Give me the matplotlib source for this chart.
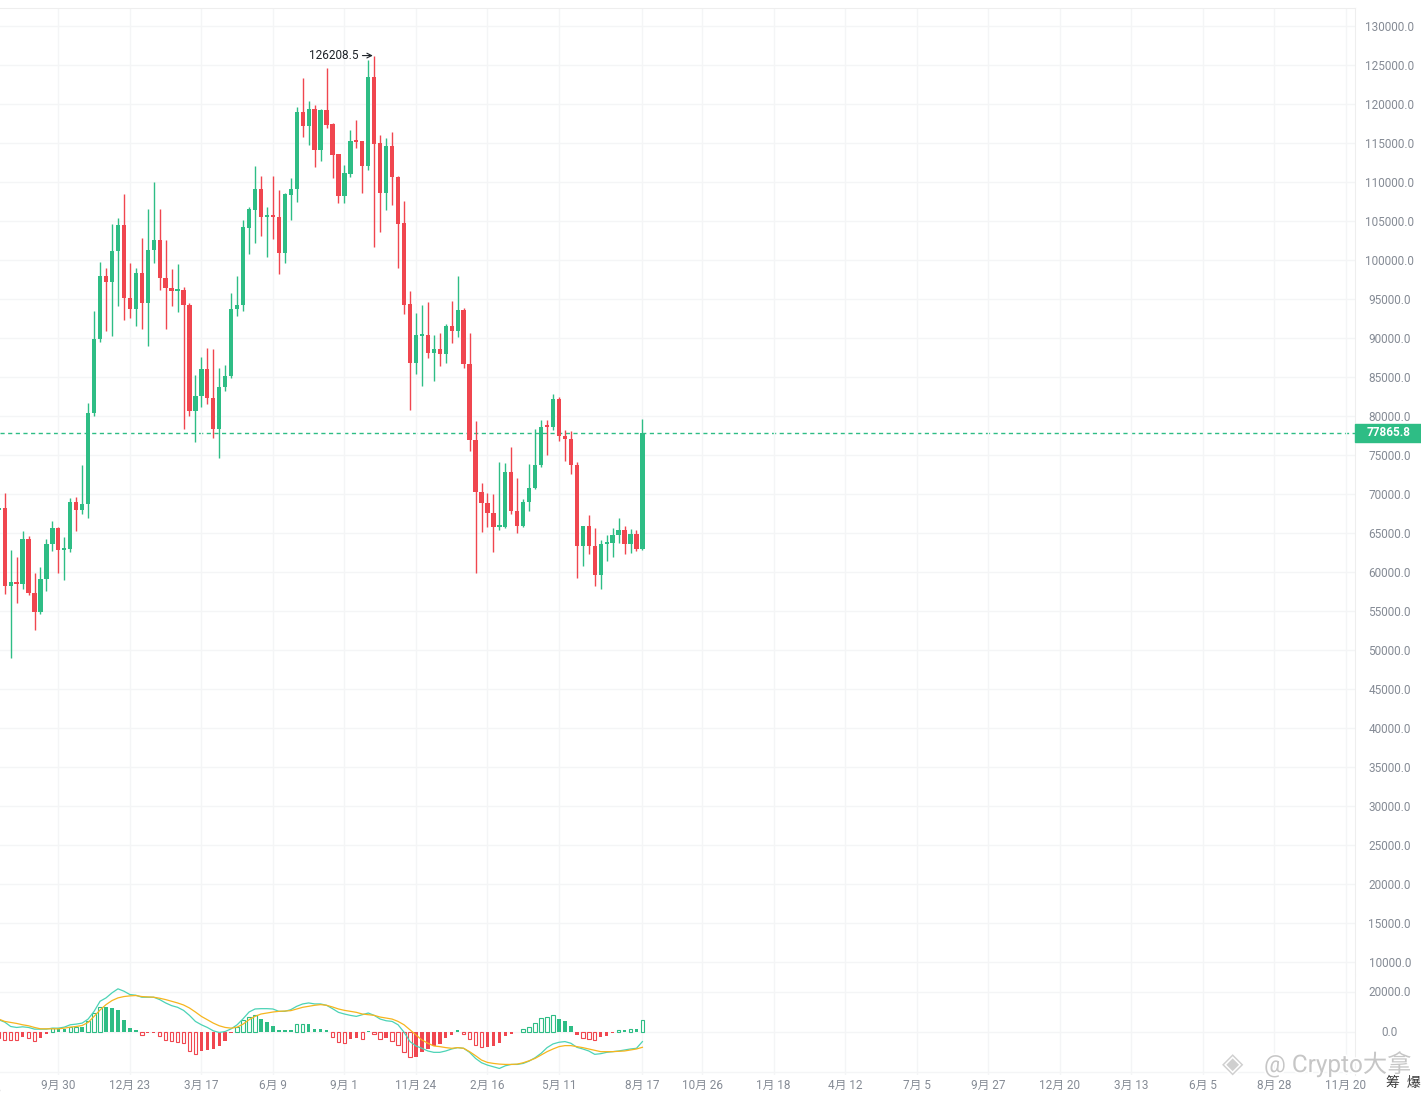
import numpy as np
import matplotlib.pyplot as plt
import matplotlib.transforms as mtransforms
import matplotlib.patheffects as pe
from matplotlib.patches import Rectangle

plt.rcParams['font.family'] = ['Roboto', 'Noto Sans CJK SC', 'DejaVu Sans']

# weekly candles, week 0 = 2024-07-22
opens = [68000, 68248, 58162, 58761, 58419, 64274, 57350, 54829, 59060, 63547,
         65684, 62778, 62991, 69017, 67906, 68675, 80342, 89829, 97991, 97137,
         101111, 104530, 95171, 93675, 98376, 94444, 101239, 102607, 97735, 96453,
         95983, 96197, 94274, 80598, 82521, 86068, 82350, 78291, 83675, 85085,
         93675, 94231, 104103, 106410, 109060, 105513, 105684, 105556, 100897, 108333,
         109060, 119017, 117179, 119402, 114103, 119274, 117393, 113547, 108205, 111026,
         115299, 115214, 112051, 123419, 114957, 108590, 114573, 110598, 104701, 94316,
         86838, 90214, 90385, 88034, 88632, 87906, 91581, 90855, 93632, 86709,
         76966, 70299, 68889, 67607, 65726, 65812, 72863, 67863, 65940, 68932,
         70726, 73675, 78761, 78547, 82222, 77479, 77094, 73761, 63333, 65855,
         63333, 59573, 63547, 63718, 64701, 65427, 63547, 64915, 62906]
highs = [69000, 70171, 62778, 61923, 65256, 64573, 59872, 60684, 64188, 66538,
         65800, 64487, 69530, 69615, 73761, 81709, 93462, 99701, 99017, 104658,
         105427, 108419, 99573, 99017, 102821, 106496, 110043, 106496, 102521, 98846,
         99487, 96538, 94444, 85299, 87564, 88761, 88590, 86197, 86496, 95812,
         97949, 105085, 106752, 112051, 110769, 106838, 110727, 108932, 108632, 110513,
         119658, 123376, 120385, 119829, 119400, 124573, 117521, 113633, 112179, 116667,
         117949, 115299, 125700, 126208.5, 115983, 115598, 116453, 110769, 107521, 96068,
         93162, 94231, 94615, 90385, 90641, 91838, 94786, 97991, 93800, 90641,
         79359, 71453, 70171, 70043, 74145, 73932, 76068, 72051, 69402, 73846,
         78376, 79487, 79530, 82863, 82436, 78162, 78120, 74145, 65900, 67350,
         65684, 64060, 64744, 65684, 66966, 65855, 65556, 65427, 79615]
lows = [66500, 57137, 49017, 56068, 57863, 57100, 52607, 54658, 57521, 62650,
        59915, 58974, 62521, 65299, 67479, 66923, 80000, 89487, 90897, 90214,
        94060, 92265, 92521, 91538, 91111, 88932, 99573, 96111, 91154, 94060,
        93376, 78291, 80000, 76667, 81154, 81538, 77180, 74573, 83205, 84900,
        92778, 93462, 100726, 102137, 103077, 100385, 102650, 98205, 99615, 105085,
        107436, 115726, 114744, 111923, 112650, 116880, 110556, 107308, 107308, 110684,
        114402, 108632, 111538, 101624, 103590, 106410, 107051, 99017, 93077, 80726,
        85342, 83889, 87479, 84487, 86410, 86795, 89316, 90085, 86154, 75556,
        59872, 65171, 65726, 62521, 65342, 65600, 67393, 65000, 65726, 67778,
        70641, 73500, 74957, 78162, 76752, 74274, 72521, 59188, 60769, 62308,
        58162, 57863, 61410, 61923, 63761, 62308, 62393, 62650, 62778]
closes = [68250, 58162, 58761, 58419, 64274, 57265, 54829, 59145, 63632, 65684,
          62778, 62991, 69017, 67906, 68761, 80427, 89915, 97991, 97137, 101197,
          104530, 95085, 93675, 98376, 94444, 101325, 102607, 97650, 96368, 95983,
          96197, 94188, 80598, 82607, 86068, 82308, 78291, 83761, 85171, 93761,
          94274, 104188, 106496, 109060, 105513, 105684, 105470, 100897, 108462, 109103,
          119017, 117179, 119402, 114103, 119274, 117308, 113462, 108205, 111111, 115214,
          115128, 112051, 123419, 114872, 108590, 114573, 110598, 104615, 94231, 86838,
          90342, 90385, 88034, 88632, 87906, 91581, 90855, 93632, 86624, 76880,
          70214, 68803, 67521, 65726, 65940, 72863, 67778, 65940, 69017, 70812,
          73761, 78632, 78547, 82222, 77393, 77009, 73761, 63333, 65855, 63333,
          59573, 63632, 63761, 64786, 65427, 63547, 64915, 62906, 77865.8]

# MACD panel
dif = [5880, 4700, 2520, 2020, 2350, 2020, 1180, 1180, 1180, 1680,
       1680, 2180, 3360, 3700, 4200, 6220, 10080, 15120, 16800, 19320,
       21340, 20160, 18480, 18140, 17140, 17140, 17140, 15960, 14280, 12940,
       12100, 10580, 8060, 5040, 3360, 2020, 340, -500, 0, 1340,
       3360, 6380, 9740, 11260, 11420, 11420, 11260, 10080, 10080, 10920,
       12600, 13780, 14280, 13780, 13780, 13100, 11420, 9580, 8740, 8060,
       7560, 8400, 9240, 8060, 6220, 5380, 5040, 3360, -340, -5040,
       -7220, -8400, -9740, -10420, -10420, -9740, -8740, -8060, -8400, -10420,
       -13440, -15620, -16800, -17640, -18480, -17140, -16460, -16460, -15960, -14780,
       -13100, -10920, -8060, -6220, -5380, -5040, -5880, -7900, -8740, -9740,
       -11420, -11090, -10420, -10080, -9740, -9240, -8740, -8400, -5040]
dea = [6220, 5040, 4540, 4030, 3360, 2860, 2020, 1340, 1340, 1340,
       1340, 1680, 2180, 2520, 3020, 4540, 7560, 10750, 13440, 15460,
       16800, 17470, 17810, 17980, 17470, 17300, 17140, 16630, 15960, 15120,
       14280, 13270, 11760, 9740, 7560, 5880, 4200, 2860, 2020, 1680,
       2180, 3700, 5880, 7560, 8740, 9240, 9740, 10080, 10250, 10420,
       11260, 12100, 12600, 13100, 13440, 13100, 12260, 11260, 10580, 10080,
       9580, 8740, 8400, 8060, 7220, 6720, 6220, 5040, 3360, 840,
       -1680, -4200, -5880, -7220, -7560, -8060, -8400, -8060, -8400, -10080,
       -12100, -14280, -15460, -15960, -16300, -16460, -16460, -16300, -15620, -14620,
       -13440, -11760, -10080, -8740, -7560, -7060, -7060, -7560, -8060, -8740,
       -9410, -10080, -10080, -10080, -9910, -9740, -9240, -8740, -7900]
hist = [-3400, -4000, -4150, -4250, -2500, -3400, -4500, -3400, -1000, 1700,
        1650, 1200, 2300, 2500, 2400, 5500, 9200, 12300, 12200, 11800,
        10900, 5900, 1900, 800, -1900, -800, -800, -2400, -4400, -4700,
        -5000, -5900, -9900, -11100, -9600, -9200, -8700, -7200, -4500, -600,
        2500, 5900, 7200, 8100, 6400, 4700, 2900, 800, 800, 800,
        3700, 3800, 3600, 1300, 1300, 800, -2500, -5000, -5500, -3900,
        -3000, -3900, 300, -1300, -3700, -3400, -4500, -6700, -10400, -12800,
        -12600, -10400, -8700, -7400, -6000, -3000, -1700, 800, -1000, -3700,
        -6700, -7900, -7800, -7100, -5500, -2000, -1000, -300, 1300, 2500,
        4200, 6700, 7200, 8400, 6400, 5400, 2900, -1800, -3000, -3700,
        -4400, -2900, -2000, -700, 800, 800, 1200, 1150, 5900]

# week index of each date label (week 0 = 2024-07-22)
tick_weeks = [-2, 10, 22, 34, 46, 58, 70, 82, 94, 108, 118, 130, 142, 154,
              166, 178, 190, 202, 214, 226]
tick_labels = ['7月 8', '9月 30', '12月 23', '3月 17', '6月 9', '9月 1', '11月 24',
               '2月 16', '5月 11', '8月 17', '10月 26', '1月 18', '4月 12', '7月 5',
               '9月 27', '12月 20', '3月 13', '6月 5', '8月 28', '11月 20']

UP = '#2ebd85'
DOWN = '#f0464f'
GRID = '#f4f5f6'
TXT = '#858b95'

W, H = 1421, 1096
fig = plt.figure(figsize=(W / 100, H / 100), dpi=100)


def rect(top, bottom):
    return [0, 1 - bottom / H, 1355 / W, (bottom - top) / H]


ax = fig.add_axes(rect(8, 975))
axm = fig.add_axes(rect(975, 1075), sharex=ax)

o = np.array(opens, float)
h = np.array(highs, float)
l = np.array(lows, float)
c = np.array(closes, float)
x = np.arange(len(c))
col = np.where(c >= o, UP, DOWN)

ax.vlines(x, l, h, colors=col, lw=1.0, zorder=2)
ax.bar(x, np.maximum(np.abs(c - o), 250), bottom=np.minimum(o, c), width=0.72,
       color=col, lw=0, zorder=3)

ax.set_ylim(8333, 132308)
ax.set_yticks(np.arange(10000, 130001, 5000))
ax.yaxis.set_major_formatter(plt.FormatStrFormatter('%.1f'))
ax.yaxis.tick_right()
ax.tick_params(axis='y', length=0, pad=25, labelsize=8.5, labelcolor=TXT)
plt.setp(ax.get_yticklabels(), ha='center')
ax.tick_params(axis='x', length=0, labelbottom=False)
ax.grid(True, color=GRID, lw=1, zorder=0)
for s in ['left', 'bottom']:
    ax.spines[s].set_visible(False)
ax.spines['right'].set_color('#eeeeee')
ax.spines['top'].set_color('#eeeeee')

# last price line and tag
last = c[-1]
ax.axhline(last, color=UP, lw=1, ls=(0, (3, 2.5)), zorder=1)
blend = mtransforms.blended_transform_factory(ax.transAxes, ax.transData)
per_px = (ax.get_ylim()[1] - ax.get_ylim()[0]) / (975 - 8)
ax.add_patch(Rectangle((1.0, last - 9 * per_px), 66 / 1355, 18 * per_px,
                       transform=blend, color=UP, clip_on=False, zorder=5))
ax.text(1.0 + 34 / 1355, last, f'{last:.1f}', transform=blend, ha='center',
        va='center', color='white', fontsize=8.5, fontweight='bold', zorder=6)

# all-time high marker
top_i = int(np.argmax(h))
ax.annotate(f'{h[top_i]:.1f}', xy=(top_i, h[top_i]), xytext=(-11.5, 0),
            textcoords='offset points', ha='right', va='center', fontsize=8.5,
            color='#1e2329',
            arrowprops=dict(arrowstyle='->', color='#1e2329', lw=0.8,
                            shrinkA=1, shrinkB=1))

# MACD
hv = np.array(hist, float)
grow = np.r_[True, np.abs(hv[1:]) > np.abs(hv[:-1])]
for i, v in enumerate(hv):
    cc = UP if v >= 0 else DOWN
    if grow[i]:
        axm.bar(i, v, width=0.58, facecolor='white', edgecolor=cc, lw=0.8, zorder=3)
    else:
        axm.bar(i, v, width=0.58, color=cc, lw=0, zorder=3)
axm.plot(x, dif, color='#4cd3b6', lw=0.9, zorder=4)
axm.plot(x, dea, color='#f6b51e', lw=0.9, zorder=4)

axm.set_ylim(-21750, 28250)
axm.set_yticks([-20000, 0, 20000])
axm.set_yticklabels(['', '0.0', '20000.0'])
axm.yaxis.tick_right()
axm.tick_params(axis='y', length=0, pad=25, labelsize=8.5, labelcolor=TXT)
plt.setp(axm.get_yticklabels(), ha='center')
axm.set_xticks(tick_weeks[1:])
axm.set_xticklabels(tick_labels[1:])
axm.tick_params(axis='x', length=0, pad=3, labelsize=8.5, labelcolor=TXT)
axm.grid(True, color=GRID, lw=1, zorder=0)
for s in ['left', 'bottom', 'top']:
    axm.spines[s].set_visible(False)
axm.spines['right'].set_color('#eeeeee')

# view: week 1 sits ~5 px from the left edge, 5.96 px per week
axm.set_xlim(0.211, 227.56)

# label of the week before the view, only partly on the canvas
axm.text(tick_weeks[0], -0.08, tick_labels[0],
         transform=mtransforms.blended_transform_factory(axm.transData, axm.transAxes),
         ha='center', va='top', fontsize=8.5, color=TXT, clip_on=False)

# watermark
halo = [pe.withStroke(linewidth=2.5, foreground='white')]
fig.text(1222 / W, 1 - 1064 / H, '◈', fontsize=20, color='#cfcfcf', va='center',
         family=['DejaVu Sans'], path_effects=halo)
fig.text(1264 / W, 1 - 1064 / H, '@ Crypto大拿', fontsize=17.5, color='#c6c6c6',
         va='center', path_effects=halo)
fig.text(1386 / W, 1 - 1083 / H, '筹  爆', fontsize=10, color='#3a3a3a', va='center')

fig.savefig('out.png', dpi=100)
